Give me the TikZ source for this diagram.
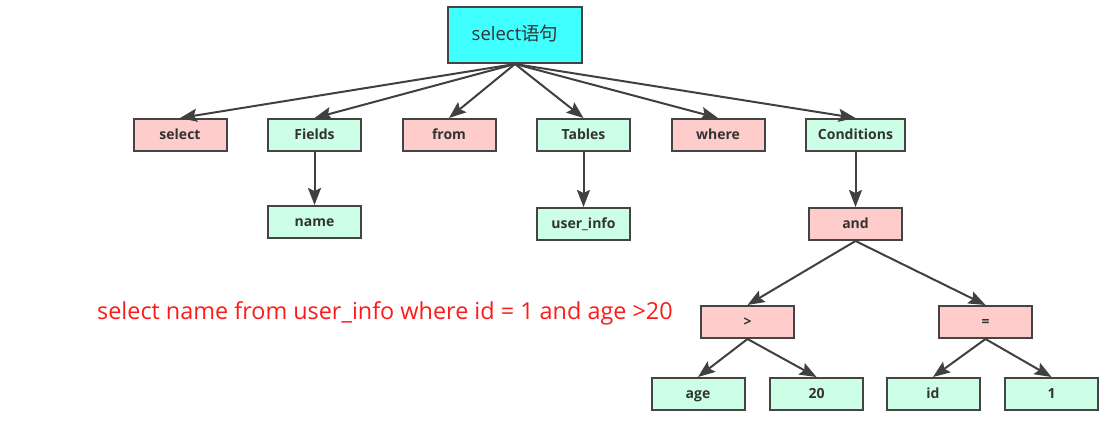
\documentclass[tikz,border=0pt]{standalone}
\usepackage{fontspec}
\setmainfont{Open Sans}
\newfontfamily\cjk{Noto Sans CJK SC}
\usetikzlibrary{arrows.meta}
\definecolor{rootcyan}{HTML}{40FFFF}
\definecolor{keypink}{HTML}{FFCCCC}
\definecolor{valgreen}{HTML}{CCFFE6}
\definecolor{boxline}{HTML}{444444}
\definecolor{sqlred}{HTML}{FF1A1A}

\begin{document}
\begin{tikzpicture}[x=1pt,y=-1pt,
       box/.style={draw=boxline,line width=2pt,minimum width=93pt,minimum height=32pt,inner sep=0pt,text height=11pt,text depth=2pt,text=black!80,font=\bfseries\fontsize{14}{14}\selectfont},
       keybox/.style={box,fill=keypink},
       valbox/.style={box,fill=valgreen},
       arr/.style={draw=black!75,line width=2pt,-{Stealth[length=17pt,width=13pt,inset=3pt]}}]
       \useasboundingbox (0,0) rectangle (1107,423);
       \node[box,fill=rootcyan,minimum width=134pt,minimum height=56pt,text height=14pt,text depth=4pt,font=\fontsize{18.5}{18.5}\selectfont] (root) at (515,35) {select{\cjk 语句}};
       % first level
       \node[keybox] (select) at (180,135) {select};
       \node[valbox] (fields) at (314.5,135) {Fields};
       \node[keybox] (from) at (449,135) {from};
       \node[valbox] (tables) at (583.5,135) {Tables};
       \node[keybox] (where) at (718,135) {where};
       \node[valbox,minimum width=99pt] (conds) at (855.5,135) {Conditions};
       \foreach \n in {select,fields,from,tables,where,conds}
         \draw[arr] (root.south) -- (\n.north);
       % second level
       \node[valbox] (name) at (314.5,222) {name};
       \node[valbox] (userinfo) at (583.5,224) {user\_info};
       \node[keybox] (and) at (855.5,224) {and};
       \draw[arr] (fields.south) -- (name.north);
       \draw[arr] (tables.south) -- (userinfo.north);
       \draw[arr] (conds.south) -- (and.north);
       % conditions
       \node[keybox] (gt) at (747.5,322) {>};
       \node[keybox] (eq) at (985.5,322) {=};
       \draw[arr] (and.south) -- (gt.north);
       \draw[arr] (and.south) -- (eq.north);
       \node[valbox] (age) at (698,394) {age};
       \node[valbox] (twenty) at (816.5,394) {20};
       \node[valbox] (id) at (933,394) {id};
       \node[valbox] (one) at (1051.5,394) {1};
       \draw[arr] (gt.south) -- (age.north);
       \draw[arr] (gt.south) -- (twenty.north);
       \draw[arr] (eq.south) -- (id.north);
       \draw[arr] (eq.south) -- (one.north);
       \node[anchor=base west,inner sep=0pt,text=sqlred,font=\fontsize{23.4}{23.4}\selectfont] (sql) at (97,319) {select name from user\_info where id = 1 and age >20};
\end{tikzpicture}
\end{document}
